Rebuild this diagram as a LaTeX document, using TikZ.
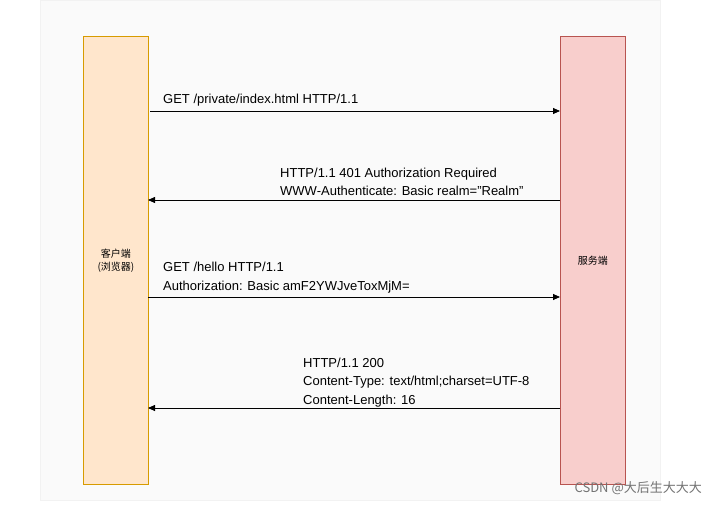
\documentclass[tikz,border=0pt]{standalone}
\usepackage{fontspec}
\setmainfont{Liberation Sans}
\newfontfamily\cjk{Noto Sans CJK SC}
\usetikzlibrary{arrows.meta}
\begin{document}
\begin{tikzpicture}[x=1pt,y=-1pt,
  msg/.style={-{Triangle[length=7pt,width=6pt]},line width=0.8pt},
  lbl/.style={font=\fontsize{13}{18.5}\selectfont,align=left,anchor=south west,inner sep=0pt}]
\useasboundingbox[fill=white] (0,0) rectangle (717,505);
\node[draw=black!5,fill=black!2,minimum width=620,minimum height=500,anchor=north west] (bg) at (40,0) {};
\node[draw={rgb,255:red,215;green,155;blue,0},fill={rgb,255:red,255;green,230;blue,204},minimum width=65,minimum height=448,anchor=north west,line width=0.8pt,
  align=center,font=\cjk\fontsize{10}{13}\selectfont] (cl) at (83,36) {客户端\\(浏览器)};
\node[draw={rgb,255:red,184;green,84;blue,80},fill={rgb,255:red,248;green,206;blue,204},minimum width=65,minimum height=448,anchor=north west,line width=0.8pt,
  font=\cjk\fontsize{10}{13}\selectfont] (sv) at (560,36) {服务端};
\coordinate (c1) at (150,111); \coordinate (s1) at (560,111);
\coordinate (c2) at (148,200); \coordinate (s2) at (560,200);
\coordinate (c3) at (148,297); \coordinate (s3) at (560,297);
\coordinate (c4) at (148,408); \coordinate (s4) at (560,408);
\draw[msg] (c1) -- (s1);
\draw[msg] (s2) -- (c2);
\draw[msg] (c3) -- (s3);
\draw[msg] (s4) -- (c4);
\node[lbl] (t1) at (163,106) {GET /private/index.html HTTP/1.1};
\node[lbl] (t2) at (280,196) {HTTP/1.1 401 Authorization Required\\WWW-Authenticate: Basic realm="Realm"};
\node[lbl] (t3) at (163,293) {GET /hello HTTP/1.1\\Authorization: Basic amF2YWJveToxMjM=};
\node[lbl] (t4) at (303,407) {HTTP/1.1 200\\Content-Type: text/html;charset=UTF-8\\Content-Length: 16};
\node[anchor=east,inner sep=0pt,text=black!55,font=\cjk\fontsize{13}{15}\selectfont] (wm) at (702,488) {CSDN @大后生大大大};
\end{tikzpicture}
\end{document}
